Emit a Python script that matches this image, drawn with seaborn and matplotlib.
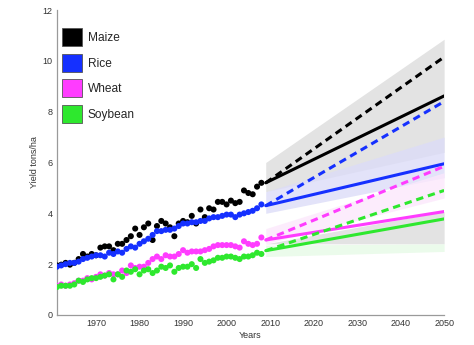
import numpy as np
import pandas as pd
import matplotlib
matplotlib.use("Agg")
import matplotlib.pyplot as plt
from matplotlib.patches import Patch
import seaborn as sns

# Historical yields (tons/ha), 1961-2008
years = list(range(1961, 2009))
maize = [1.95, 1.98, 2.05, 1.98, 2.05, 2.2, 2.4, 2.3, 2.4, 2.35,
         2.65, 2.7, 2.7, 2.55, 2.8, 2.8, 2.95, 3.1, 3.4, 3.15,
         3.45, 3.6, 2.95, 3.5, 3.7, 3.6, 3.45, 3.1, 3.6, 3.7,
         3.65, 3.9, 3.6, 4.15, 3.85, 4.2, 4.15, 4.45, 4.45, 4.35,
         4.5, 4.4, 4.45, 4.9, 4.8, 4.75, 5.05, 5.2]
rice = [1.9, 1.95, 2.0, 2.05, 2.05, 2.1, 2.2, 2.25, 2.3, 2.35,
        2.35, 2.3, 2.45, 2.4, 2.5, 2.45, 2.6, 2.7, 2.65, 2.8,
        2.9, 3.0, 3.15, 3.3, 3.3, 3.35, 3.35, 3.4, 3.5, 3.6,
        3.6, 3.65, 3.65, 3.7, 3.7, 3.8, 3.85, 3.85, 3.9, 3.95,
        3.95, 3.85, 3.95, 4.0, 4.05, 4.1, 4.2, 4.35]
wheat = [1.15, 1.2, 1.15, 1.2, 1.25, 1.35, 1.35, 1.45, 1.4, 1.5,
         1.6, 1.55, 1.65, 1.6, 1.6, 1.75, 1.65, 1.95, 1.85, 1.9,
         1.9, 2.05, 2.2, 2.3, 2.2, 2.35, 2.3, 2.3, 2.4, 2.55,
         2.45, 2.5, 2.5, 2.5, 2.55, 2.6, 2.7, 2.75, 2.75, 2.75,
         2.75, 2.7, 2.65, 2.9, 2.8, 2.75, 2.8, 3.05]
soybean = [1.1, 1.15, 1.15, 1.15, 1.2, 1.35, 1.3, 1.4, 1.45, 1.45,
           1.5, 1.55, 1.6, 1.4, 1.6, 1.5, 1.75, 1.7, 1.8, 1.6,
           1.75, 1.8, 1.65, 1.75, 1.9, 1.85, 1.95, 1.7, 1.85, 1.9,
           1.9, 2.0, 1.85, 2.2, 2.05, 2.1, 2.15, 2.25, 2.25, 2.3,
           2.3, 2.25, 2.2, 2.3, 2.3, 2.35, 2.45, 2.4]

# Projections 2009 -> 2050: current trend (solid) and required rate (dashed)
proj_years = [2009, 2050]
trend = {"Maize": [5.2, 8.62], "Rice": [4.3, 5.95],
         "Wheat": [2.95, 4.07], "Soybean": [2.53, 3.78]}
needed = {"Maize": [5.2, 10.15], "Rice": [4.3, 8.4],
          "Wheat": [2.95, 5.85], "Soybean": [2.53, 4.9]}

# Uncertainty ranges of the trends: (lower, upper) at 2009 and 2050
band_lo = {"Maize": [4.85, 6.4], "Rice": [4.0, 5.4],
           "Wheat": [2.8, 4.6], "Soybean": [2.3, 2.5]}
band_hi = {"Maize": [6.0, 10.85], "Rice": [4.85, 7.0],
           "Wheat": [3.4, 5.6], "Soybean": [2.75, 2.8]}
# Gray spread beneath the wheat trend
spread_lo = [2.8, 2.8]
spread_hi = [2.8, 4.07]

crops = ["Maize", "Rice", "Wheat", "Soybean"]
colors = {"Maize": "#000000", "Rice": "#1530ff",
          "Wheat": "#ff3cff", "Soybean": "#2ee82e"}
band_colors = {"Maize": "#e3e3e3", "Rice": "#dcdcf8",
               "Wheat": "#fce8fc", "Soybean": "#e6fae6"}

hist = pd.DataFrame({"Year": years * 4,
                     "Yield": maize + rice + wheat + soybean,
                     "Crop": np.repeat(crops, len(years))})

sns.set_style("white")
plt.rcParams["font.family"] = ["Liberation Sans", "DejaVu Sans"]

fig = plt.figure(figsize=(4.74, 3.45), dpi=100)
ax = fig.add_axes([0.120, 0.087, 0.817, 0.884])

# Shaded ranges
ax.fill_between(proj_years, band_lo["Maize"], band_hi["Maize"],
                color=band_colors["Maize"], lw=0, zorder=1)
ax.fill_between(proj_years, spread_lo, spread_hi,
                color="#e3e3e3", lw=0, zorder=1)
for c in ["Rice", "Wheat", "Soybean"]:
    ax.fill_between(proj_years, band_lo[c], band_hi[c],
                    color=band_colors[c], alpha=0.8, lw=0, zorder=1.5)

# Historical points
sns.scatterplot(data=hist, x="Year", y="Yield", hue="Crop",
                palette=colors, s=19, linewidth=0, legend=False,
                ax=ax, zorder=3)

# Projection lines
for c in crops:
    sns.lineplot(x=proj_years, y=trend[c], color=colors[c], lw=2.2,
                 ax=ax, zorder=4)
    ln = sns.lineplot(x=proj_years, y=needed[c], color=colors[c], lw=2.2,
                      ax=ax, zorder=4).lines[-1]
    ln.set_dashes((2.4, 1.6))

ax.set_xlim(1961, 2050)
ax.set_ylim(0, 12)
ax.set_xticks([1970, 1980, 1990, 2000, 2010, 2020, 2030, 2040, 2050])
ax.set_yticks([0, 2, 4, 6, 8, 10, 12])
ax.set_xlabel("Years", fontsize=6.5, color="#333333", labelpad=2)
ax.set_ylabel("Yield tons/ha", fontsize=6.5, color="#333333", labelpad=3)

for s in ["top", "right"]:
    ax.spines[s].set_visible(False)
for s in ["left", "bottom"]:
    ax.spines[s].set_color("#9a9a9a")
    ax.spines[s].set_linewidth(0.9)
ax.tick_params(axis="both", direction="in", length=3, width=0.8,
               color="#9a9a9a", labelsize=6.5, labelcolor="#333333", pad=3)

handles = [Patch(facecolor=colors[c], edgecolor="#555555", lw=0.6, label=c)
           for c in crops]
ax.legend(handles=handles, loc="upper left", bbox_to_anchor=(-0.015, 0.975),
          frameon=False, fontsize=8.6, handlelength=1.7, handleheight=1.95,
          labelspacing=0.62, handletextpad=0.45)

fig.savefig("out.png", dpi=100)
